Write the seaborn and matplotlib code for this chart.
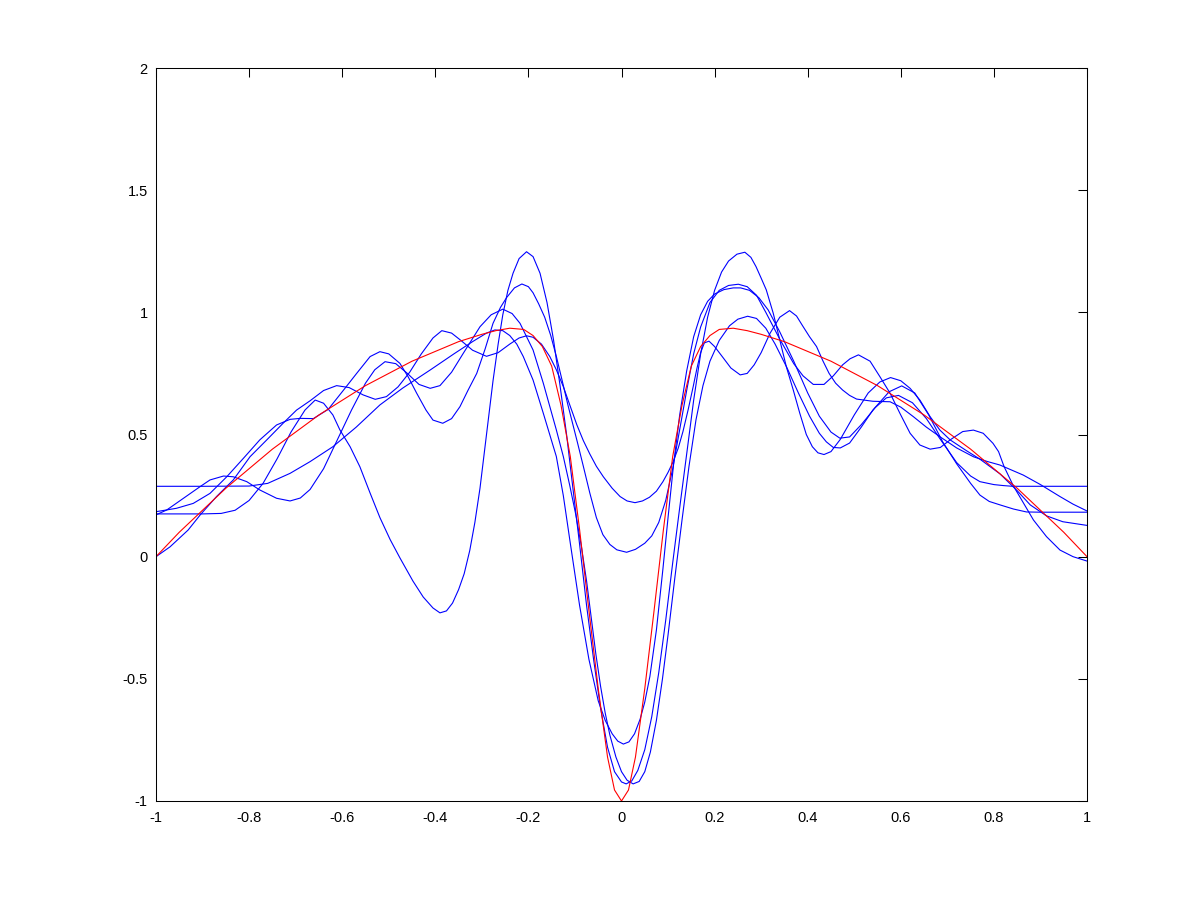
import matplotlib
matplotlib.use("Agg")
import matplotlib.pyplot as plt
import seaborn as sns

# ---------------- data ----------------
red_x = [-1, -0.95, -0.9, -0.85, -0.8, -0.75, -0.7, -0.65, -0.6, -0.55, -0.5, -0.45, -0.4, -0.35,
         -0.3, -0.27, -0.24, -0.21, -0.19, -0.17, -0.15, -0.13, -0.11, -0.09, -0.07, -0.05, -0.03,
         -0.015, 0, 0.015, 0.03, 0.05, 0.07, 0.09, 0.11, 0.13, 0.15, 0.17, 0.19, 0.21, 0.24, 0.27,
         0.3, 0.35, 0.4, 0.45, 0.5, 0.55, 0.6, 0.65, 0.7, 0.75, 0.8, 0.85, 0.9, 0.95, 1]
red_y = [0.0, 0.10, 0.19, 0.28, 0.36, 0.44, 0.51, 0.58, 0.64, 0.70, 0.75, 0.80, 0.84, 0.88,
         0.91, 0.925, 0.935, 0.93, 0.905, 0.86, 0.78, 0.62, 0.41, 0.11, -0.22, -0.54, -0.82,
         -0.955, -1.0, -0.955, -0.82, -0.54, -0.22, 0.11, 0.41, 0.62, 0.78, 0.86, 0.905, 0.93, 0.935, 0.925,
         0.91, 0.88, 0.84, 0.80, 0.75, 0.70, 0.64, 0.58, 0.51, 0.44, 0.36, 0.28, 0.19, 0.10, 0.0]

w_x = [-1, -0.97, -0.931, -0.905, -0.87, -0.834, -0.798, -0.762, -0.727, -0.698, -0.669, -0.64,
       -0.612, -0.585, -0.555, -0.529, -0.505, -0.48, -0.455, -0.43, -0.405, -0.386, -0.365, -0.345,
       -0.32, -0.29, -0.265, -0.24, -0.22, -0.204, -0.19, -0.172, -0.154, -0.14, -0.125, -0.11, -0.096,
       -0.082, -0.068, -0.054, -0.039, -0.02, -0.003, 0.012, 0.029, 0.045, 0.06, 0.075, 0.089, 0.1,
       0.111, 0.122, 0.132, 0.143, 0.154, 0.162, 0.17, 0.178, 0.188, 0.2, 0.218, 0.235, 0.255, 0.27,
       0.285, 0.3, 0.319, 0.34, 0.361, 0.376, 0.389, 0.404, 0.419, 0.433, 0.446, 0.46, 0.475, 0.49,
       0.505, 0.54, 0.577, 0.6, 0.627, 0.655, 0.684, 0.72, 0.756, 0.785, 0.813, 0.863, 0.9, 0.942, 0.97, 1.0]
w_y = [0.0, 0.04, 0.109, 0.171, 0.246, 0.314, 0.409, 0.478, 0.546, 0.600, 0.638, 0.68,
       0.70, 0.692, 0.662, 0.644, 0.655, 0.695, 0.755, 0.83, 0.895, 0.925, 0.915, 0.885,
       0.845, 0.82, 0.835, 0.87, 0.895, 0.904, 0.898, 0.87, 0.819, 0.765, 0.696, 0.615, 0.54,
       0.475, 0.42, 0.37, 0.327, 0.28, 0.246, 0.228, 0.221, 0.228, 0.243, 0.268, 0.307, 0.345,
       0.389, 0.445, 0.512, 0.6, 0.696, 0.77, 0.835, 0.875, 0.882, 0.86, 0.815, 0.772, 0.744, 0.75,
       0.785, 0.835, 0.914, 0.98, 1.007, 0.985, 0.945, 0.9, 0.86, 0.8, 0.75, 0.71, 0.682, 0.66,
       0.645, 0.636, 0.634, 0.612, 0.573, 0.53, 0.491, 0.445, 0.409, 0.39, 0.375, 0.334, 0.295, 0.246, 0.215, 0.187]

a_x = [-1, -0.9, -0.8, -0.76, -0.712, -0.669, -0.62, -0.57, -0.519, -0.47, -0.411, -0.36, -0.32,
       -0.29, -0.272, -0.255, -0.24, -0.225, -0.211, -0.19, -0.168, -0.14, -0.125, -0.111, -0.09,
       -0.07, -0.05, -0.035, -0.02, -0.008, 0.004, 0.016, 0.028, 0.04, 0.05, 0.061, 0.075, 0.089, 0.1,
       0.112, 0.125, 0.14, 0.155, 0.17, 0.185, 0.2, 0.22, 0.24, 0.256, 0.275, 0.295, 0.315, 0.34, 0.37,
       0.4, 0.425, 0.45, 0.469, 0.49, 0.515, 0.545, 0.569, 0.595, 0.625, 0.655, 0.685, 0.72, 0.75,
       0.77, 0.8, 0.82, 0.84, 0.9, 1.0]
a_y = [0.288, 0.288, 0.289, 0.30, 0.341, 0.389, 0.45, 0.53, 0.621, 0.69, 0.764, 0.83, 0.88,
       0.915, 0.928, 0.925, 0.905, 0.87, 0.819, 0.723, 0.587, 0.41, 0.25, 0.068, -0.2,
       -0.42, -0.59, -0.67, -0.725, -0.755, -0.767, -0.758, -0.725, -0.665, -0.595, -0.49, -0.3, -0.05, 0.16,
       0.38, 0.58, 0.76, 0.9, 0.99, 1.045, 1.075, 1.093, 1.1, 1.1, 1.09, 1.06, 1.01, 0.92, 0.8,
       0.67, 0.575, 0.51, 0.485, 0.49, 0.54, 0.61, 0.65, 0.66, 0.63, 0.565, 0.48, 0.385, 0.33,
       0.307, 0.295, 0.291, 0.288, 0.288, 0.288]

p_x = [-1, -0.9, -0.86, -0.83, -0.8, -0.77, -0.74, -0.71, -0.68, -0.658, -0.64, -0.62, -0.605, -0.583,
       -0.562, -0.54, -0.519, -0.497, -0.476, -0.448, -0.426, -0.405, -0.39, -0.376, -0.363, -0.35,
       -0.338, -0.326, -0.315, -0.304, -0.29, -0.276, -0.265, -0.255, -0.244, -0.233, -0.22, -0.204,
       -0.19, -0.175, -0.16, -0.146, -0.132, -0.118, -0.105, -0.09, -0.075, -0.06, -0.045, -0.03, -0.015,
       0.0, 0.01, 0.022, 0.035, 0.05, 0.065, 0.08, 0.095, 0.11, 0.125, 0.14, 0.155, 0.17, 0.185, 0.2,
       0.215, 0.23, 0.248, 0.265, 0.278, 0.289, 0.3, 0.311, 0.326, 0.34, 0.354, 0.369, 0.383, 0.397,
       0.41, 0.422, 0.435, 0.45, 0.47, 0.5, 0.53, 0.555, 0.578, 0.6, 0.62, 0.641, 0.663, 0.684, 0.706,
       0.74, 0.77, 0.813, 0.85, 0.878, 0.913, 0.948, 1.0]
p_y = [0.175, 0.175, 0.177, 0.19, 0.23, 0.30, 0.40, 0.51, 0.60, 0.641, 0.628, 0.58, 0.519, 0.45,
       0.368, 0.26, 0.16, 0.07, -0.005, -0.1, -0.165, -0.21, -0.23, -0.222, -0.19, -0.135,
       -0.07, 0.025, 0.14, 0.28, 0.5, 0.72, 0.87, 0.99, 1.09, 1.16, 1.22, 1.248,
       1.228, 1.16, 1.04, 0.887, 0.70, 0.50, 0.29, 0.05, -0.2, -0.42, -0.62, -0.78, -0.88,
       -0.922, -0.93, -0.918, -0.875, -0.79, -0.655, -0.475, -0.26, -0.025, 0.2, 0.42, 0.64, 0.83, 0.98, 1.09,
       1.165, 1.21, 1.238, 1.246, 1.225, 1.187, 1.14, 1.092, 0.996, 0.887, 0.778, 0.682, 0.587, 0.50,
       0.45, 0.425, 0.418, 0.43, 0.48, 0.58, 0.67, 0.715, 0.733, 0.72, 0.689, 0.641, 0.573, 0.518, 0.478,
       0.435, 0.399, 0.339, 0.27, 0.212, 0.167, 0.143, 0.128]

u_x = [-1, -0.977, -0.941, -0.905, -0.884, -0.855, -0.834, -0.805, -0.777, -0.741, -0.712, -0.69,
       -0.669, -0.64, -0.61, -0.58, -0.55, -0.53, -0.508, -0.485, -0.46, -0.435, -0.411, -0.39, -0.365,
       -0.34, -0.304, -0.28, -0.255, -0.235, -0.218, -0.19, -0.168, -0.14, -0.125, -0.111, -0.098,
       -0.086, -0.075, -0.065, -0.055, -0.045, -0.035, -0.025, -0.012, 0.0, 0.012, 0.025, 0.038, 0.05,
       0.062, 0.075, 0.088, 0.1, 0.115, 0.13, 0.145, 0.16, 0.175, 0.19, 0.21, 0.232, 0.25, 0.271, 0.29,
       0.31, 0.33, 0.355, 0.38, 0.404, 0.425, 0.44, 0.455, 0.47, 0.49, 0.515, 0.54, 0.575, 0.602, 0.63,
       0.66, 0.69, 0.72, 0.75, 0.77, 0.79, 0.813, 0.842, 0.87, 0.9, 1.0]
u_y = [0.171, 0.191, 0.239, 0.287, 0.314, 0.33, 0.327, 0.307, 0.273, 0.239, 0.228, 0.24,
       0.275, 0.36, 0.48, 0.60, 0.71, 0.765, 0.798, 0.79, 0.75, 0.705, 0.689, 0.70, 0.755,
       0.832, 0.941, 0.99, 1.013, 0.995, 0.955, 0.846, 0.71, 0.519, 0.41, 0.29, 0.17,
       0.04, -0.1, -0.25, -0.4, -0.53, -0.64, -0.73, -0.82, -0.88, -0.915, -0.93, -0.92, -0.88,
       -0.8, -0.67, -0.5, -0.32, -0.08, 0.15, 0.37, 0.56, 0.7, 0.8, 0.885, 0.945, 0.972, 0.984, 0.975,
       0.935, 0.87, 0.775, 0.67, 0.575, 0.505, 0.47, 0.447, 0.445, 0.465, 0.53, 0.6, 0.675, 0.699, 0.67,
       0.58, 0.47, 0.38, 0.30, 0.252, 0.226, 0.212, 0.195, 0.183, 0.182, 0.182]

v_x = [-1, -0.956, -0.92, -0.884, -0.848, -0.812, -0.777, -0.741, -0.712, -0.69, -0.662, -0.63,
       -0.597, -0.569, -0.54, -0.519, -0.5, -0.476, -0.458, -0.44, -0.42, -0.405, -0.384, -0.365,
       -0.347, -0.33, -0.311, -0.293, -0.276, -0.26, -0.247, -0.23, -0.214, -0.2, -0.19, -0.178,
       -0.165, -0.152, -0.14, -0.128, -0.115, -0.105, -0.095, -0.082, -0.068, -0.054, -0.04, -0.025,
       -0.01, 0.011, 0.03, 0.05, 0.065, 0.08, 0.095, 0.11, 0.125, 0.14, 0.155, 0.17, 0.19, 0.21, 0.23,
       0.251, 0.27, 0.29, 0.31, 0.34, 0.37, 0.39, 0.412, 0.435, 0.455, 0.475, 0.491, 0.509, 0.534,
       0.555, 0.577, 0.598, 0.62, 0.641, 0.663, 0.685, 0.706, 0.733, 0.756, 0.777, 0.798, 0.81, 0.822,
       0.842, 0.864, 0.885, 0.913, 0.942, 0.97, 1.0]
v_y = [0.184, 0.198, 0.218, 0.259, 0.327, 0.403, 0.478, 0.539, 0.562, 0.566, 0.565, 0.603,
       0.682, 0.75, 0.819, 0.839, 0.83, 0.791, 0.735, 0.669, 0.6, 0.559, 0.546, 0.565,
       0.614, 0.68, 0.75, 0.85, 0.955, 1.02, 1.06, 1.1, 1.116, 1.105, 1.08, 1.035,
       0.98, 0.905, 0.82, 0.725, 0.62, 0.545, 0.47, 0.37, 0.26, 0.16, 0.09, 0.05,
       0.028, 0.018, 0.03, 0.055, 0.085, 0.14, 0.23, 0.36, 0.52, 0.68, 0.83, 0.94, 1.04, 1.09, 1.11,
       1.115, 1.105, 1.07, 1.0, 0.89, 0.79, 0.74, 0.705, 0.705, 0.74, 0.785, 0.81, 0.826, 0.8,
       0.737, 0.669, 0.587, 0.505, 0.457, 0.44, 0.447, 0.478, 0.512, 0.518, 0.505, 0.464, 0.43, 0.368,
       0.289, 0.218, 0.150, 0.082, 0.027, 0.0, -0.018]

blue_series = [(w_x, w_y), (a_x, a_y), (p_x, p_y), (u_x, u_y), (v_x, v_y)]

x_ticks = [-1, -0.8, -0.6, -0.4, -0.2, 0, 0.2, 0.4, 0.6, 0.8, 1]
x_tick_labels = ["-1", "-0.8", "-0.6", "-0.4", "-0.2", "0", "0.2", "0.4", "0.6", "0.8", "1"]
y_ticks = [-1, -0.5, 0, 0.5, 1, 1.5, 2]
y_tick_labels = ["-1", "-0.5", "0", "0.5", "1", "1.5", "2"]

# ---------------- drawing ----------------
sns.set_style("white")
plt.rcParams["font.family"] = ["Liberation Sans", "DejaVu Sans"]
plt.rcParams["axes.unicode_minus"] = False

fig = plt.figure(figsize=(12.01, 9.01), dpi=100)
fig.patch.set_facecolor("white")
ax = fig.add_axes([156 / 1201, 100 / 901, 931 / 1201, 733 / 901])

for xs, ys in blue_series:
    sns.lineplot(x=xs, y=ys, ax=ax, color="#0000ff", linewidth=0.8,
                 sort=False, estimator=None, legend=False)
sns.lineplot(x=red_x, y=red_y, ax=ax, color="#ff0000", linewidth=0.8,
             sort=False, estimator=None, legend=False)

ax.set_xlim(-1, 1)
ax.set_ylim(-1, 2)
ax.set_xticks(x_ticks)
ax.set_xticklabels(x_tick_labels)
ax.set_yticks(y_ticks)
ax.set_yticklabels(y_tick_labels)
ax.set_xlabel("")
ax.set_ylabel("")
ax.tick_params(direction="in", length=6.5, width=0.75, top=True, right=True,
               labelsize=10.5, colors="black")
ax.tick_params(axis="x", pad=7)
ax.tick_params(axis="y", pad=6)
for s in ax.spines.values():
    s.set_visible(True)
    s.set_color("black")
    s.set_linewidth(0.75)
ax.grid(False)

fig.savefig("out.png", dpi=100, facecolor="white")
